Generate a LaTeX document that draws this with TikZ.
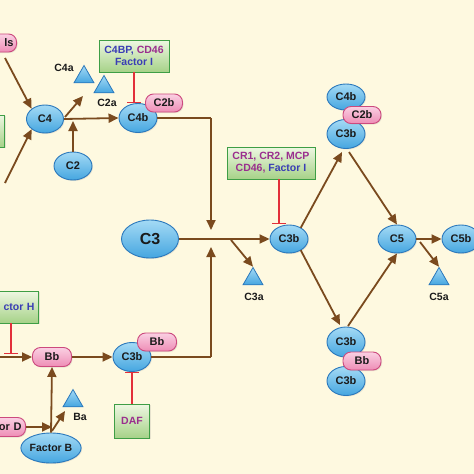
\documentclass[tikz,border=0pt]{standalone}
\usepackage{fontspec}
\setmainfont{Liberation Sans}
\usetikzlibrary{shapes.geometric,arrows.meta,shadows}
\definecolor{bg}{HTML}{FEF9E0}
\definecolor{bluetop}{HTML}{A4DAF5}
\definecolor{bluebot}{HTML}{45A6E0}
\definecolor{blueedge}{HTML}{2A78BC}
\definecolor{pinktop}{HTML}{FAD0E2}
\definecolor{pinkbot}{HTML}{EE8DB6}
\definecolor{pinkedge}{HTML}{CC4A7E}
\definecolor{greentop}{HTML}{EEF7E2}
\definecolor{greenbot}{HTML}{A6D288}
\definecolor{greenedge}{HTML}{3E9E45}
\definecolor{brownarr}{HTML}{7A4A1E}
\definecolor{redinh}{HTML}{E2303A}
\definecolor{purptext}{HTML}{9A2E8E}
\definecolor{bluetext}{HTML}{3A3DB5}
\definecolor{txt}{HTML}{1A1A1A}
\tikzset{
  x=1pt, y=-1pt,
  shade1/.style={drop shadow={opacity=0.18,shadow xshift=1pt,shadow yshift=-1pt}},
  cell/.style={ellipse, draw=blueedge, line width=0.9pt, top color=bluetop, bottom color=bluebot,
     minimum width=38, minimum height=28, inner sep=0pt, font=\fontsize{11}{13}\selectfont\bfseries, text=txt, shade1},
  pill/.style={rounded corners=8pt, draw=pinkedge, line width=0.9pt, top color=pinktop, bottom color=pinkbot,
     minimum width=38, minimum height=18, inner sep=0pt, font=\fontsize{11}{13}\selectfont\bfseries, text=txt, shade1},
  gbox/.style={draw=greenedge, line width=0.9pt, top color=greentop, bottom color=greenbot,
     inner sep=2pt, align=center, font=\fontsize{10.5}{13}\selectfont\bfseries, shade1},
  tri/.style={regular polygon, regular polygon sides=3, draw=blueedge, line width=0.8pt,
     top color=bluetop, bottom color=bluebot, minimum size=23, inner sep=0pt},
  lbl/.style={font=\fontsize{10.5}{12}\selectfont\bfseries, text=txt, inner sep=0pt},
  arr/.style={draw=brownarr, line width=1.8pt, -{Triangle[length=10pt,width=9pt]}},
  wire/.style={draw=brownarr, line width=1.8pt},
  inh/.style={draw=redinh, line width=1.5pt, -{Bar[width=14pt,line width=1.5pt]}},
}
\begin{document}
\begin{tikzpicture}
\clip (0,0) rectangle (474,474);
\fill[bg] (0,0) rectangle (474,474);

% partial boxes at left edge
\node[pill, anchor=east, text width=32, align=right, inner xsep=3pt, minimum height=18] (c1s) at (17,43) {ls};
\node[gbox, anchor=east, minimum width=40, minimum height=32] (lmid) at (5,131) {};
\node[gbox, anchor=east, text width=60, align=right, minimum height=32, inner xsep=4pt, text=bluetext] (fh) at (39,307) {ctor H};
\node[pill, anchor=east, text width=40, align=right, inner xsep=4pt, minimum height=19] (fd) at (26,427) {or D};

% classical pathway
\node[cell, minimum width=37] (c4) at (45,119) {C4};
\node[cell] (c2) at (73,166) {C2};
\node[cell, minimum height=29] (c4b) at (138,118) {C4b};
\node[pill, minimum width=37] (c2b) at (164,103) {C2b};
\node[gbox, minimum width=70, minimum height=32] (c4bp) at (134,56)
  {\textcolor{bluetext}{C4BP,} \textcolor{purptext}{CD46}\\[-1pt]\textcolor{bluetext}{Factor I}};
\node[tri] (c4a) at (84,77) {};
\node[lbl] (c4al) at (64,68) {C4a};
\node[tri] (c2a) at (104,87) {};
\node[lbl] (c2al) at (107,103) {C2a};

\coordinate (c1end) at (5,58);
\coordinate (lecstart) at (5,183);
\coordinate (c4up) at (65,117);
\coordinate (c4upend) at (83,96);
\coordinate (c2end) at (73,121);

\draw[arr] (c1end) -- (c4.north west);
\draw[arr] (lecstart) -- (c4.south west);
\draw[arr] (c4.east) -- (c4b.west);
\draw[arr] (c2.north) -- (c2end);
\draw[arr] (c4up) -- (c4upend);
\draw[inh] (c4bp.south) -- (c4b.north -| c4bp.south);

% C3
\node[cell, minimum width=57, minimum height=38, font=\fontsize{16}{18}\selectfont\bfseries] (c3) at (150,239) {C3};
\node[cell] (c3b) at (289,239) {C3b};
\coordinate (j1) at (211,239);
\coordinate (jtop) at (211,230);
\coordinate (jbot) at (211,247);
\draw[wire] (c4b.east) -- (c4b.east -| j1);
\draw[arr] (c4b.east -| j1) -- (jtop);
\draw[arr] (c3.east) -- (c3b.west);
\node[gbox, minimum width=88, minimum height=32] (cr) at (271,163)
  {\textcolor{purptext}{CR1, CR2, MCP}\\[-1pt]\textcolor{purptext}{CD46,} \textcolor{bluetext}{Factor I}};
\draw[inh] (cr.south -| 279,0) -- (279,224);
\node[tri] (c3a) at (253,279) {};
\node[lbl] (c3al) at (254,297) {C3a};
\coordinate (c3as) at (231,240);
\draw[arr] (c3as) -- (c3a.north);

% top complex C4b C2b C3b
\node[cell, minimum height=26] (c4bt) at (346,97) {C4b};
\node[cell, minimum height=29] (c3bt) at (346,134) {C3b};
\node[pill, minimum height=17] (c2bt) at (362,115) {C2b};

% bottom complex C3b Bb C3b
\node[cell, minimum height=30] (c3bb1) at (346,342) {C3b};
\node[cell, minimum height=29] (c3bb2) at (346,381) {C3b};
\node[pill] (bbb) at (362,361) {Bb};

% C5
\node[cell] (c5) at (397,239) {C5};
\node[cell] (c5b) at (461,239) {C5b};
\node[tri] (c5a) at (439,279) {};
\node[lbl] (c5al) at (439,297) {C5a};
\coordinate (c5as) at (420,242);

\coordinate (toin) at (342,152);
\coordinate (toout) at (349,152);
\coordinate (boin) at (340,325);
\coordinate (boout) at (348,326);
\draw[arr] (c3b.north east) ++(-2,-1) -- (toin);
\draw[arr] (toout) -- (c5.north);
\draw[arr] (c3b.south east) ++(-2,1) -- (boin);
\draw[arr] (boout) -- (c5.south);
\draw[arr] (c5.east) -- (c5b.west);
\draw[arr] (c5as) -- (c5a.north);

% alternative pathway
\node[pill, minimum width=39, minimum height=19] (bbl) at (52,357) {Bb};
\node[cell, minimum height=29] (c3bl) at (132,357) {C3b};
\node[pill, minimum width=39] (bbl2) at (157,342) {Bb};
\node[gbox, minimum width=35, minimum height=34, text=purptext] (daf) at (132,421) {DAF};
\node[cell, minimum width=54, minimum height=30, font=\fontsize{10.5}{12}\selectfont\bfseries] (fb) at (51,448) {Factor B};
\node[tri] (ba) at (73,401) {};
\node[lbl] (bal) at (80,417) {Ba};
\coordinate (altstart) at (0,357);
\coordinate (fdend) at (52,427);
\coordinate (bastart) at (52,431);
\coordinate (baend) at (65,411);

\draw[arr] (altstart) -- (bbl.west);
\draw[inh] (11,323) -- (11,354);
\draw[arr] (bbl.east) -- (c3bl.west);
\draw[arr] (fb.north) -- (bbl.south);
\draw[arr] (fd.east) -- (fdend);
\draw[arr] (bastart) -- (baend);
\draw[inh] (daf.north) -- (c3bl.south);
\draw[wire] (c3bl.east) -- (c3bl.east -| j1);
\draw[arr] (c3bl.east -| j1) -- (jbot);
\end{tikzpicture}
\end{document}
